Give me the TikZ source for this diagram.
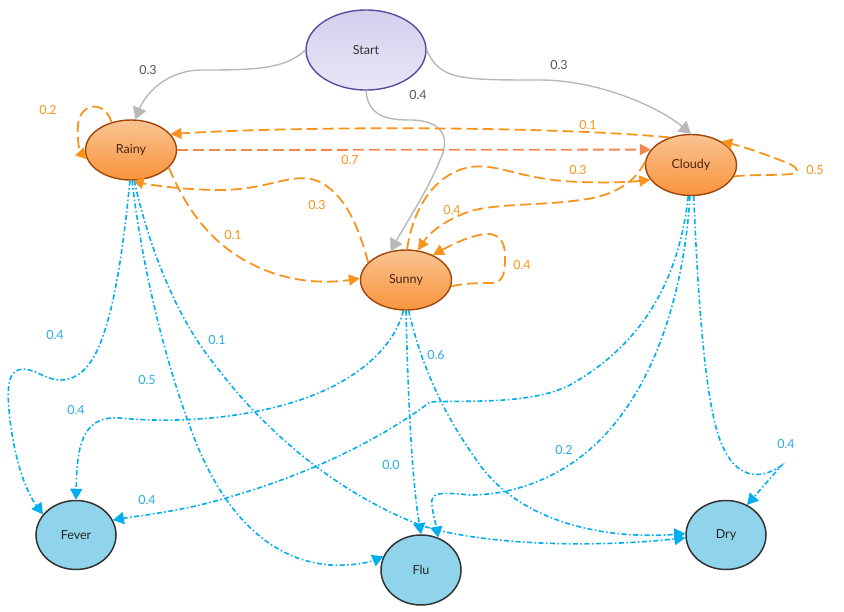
\documentclass[tikz,border=0pt]{standalone}
\usepackage{fontspec}
\setmainfont{Lato}
\usetikzlibrary{shapes.geometric,arrows.meta}
\definecolor{orln}{HTML}{F7941D}
\definecolor{salm}{HTML}{F2874F}
\definecolor{blln}{HTML}{00AEEF}
\definecolor{bltx}{HTML}{29ABE2}
\definecolor{grln}{HTML}{B8B8B8}
\definecolor{grtx}{HTML}{555555}
\definecolor{ortop}{HTML}{F9C391}
\definecolor{orbot}{HTML}{F9943C}
\definecolor{orbrd}{HTML}{A0460A}
\definecolor{ortxt}{HTML}{4A2410}
\definecolor{sttop}{HTML}{D3CFEE}
\definecolor{stbot}{HTML}{E8E6F6}
\definecolor{stbrd}{HTML}{574BA0}
\definecolor{blfill}{HTML}{8FD4EA}
\tikzset{
  hidden/.style={ellipse, inner sep=0pt, line width=1.4pt, font=\fontsize{12.5}{14}\selectfont,
    minimum width=91pt, minimum height=60pt, draw=orbrd, top color=ortop, bottom color=orbot, text=ortxt},
  startnode/.style={ellipse, inner sep=0pt, line width=1.4pt, font=\fontsize{12.5}{14}\selectfont,
    minimum width=120pt, minimum height=80pt, draw=stbrd, top color=sttop, bottom color=stbot, text=black!80},
  obsnode/.style={ellipse, inner sep=0pt, line width=1.5pt, font=\fontsize{12.5}{14}\selectfont,
    minimum width=80pt, minimum height=69pt, draw=black!80, fill=blfill, text=black!85},
  grayedge/.style={draw=grln, line width=1.4pt, -{Triangle[length=12pt,width=14pt]}, fill=none},
  oredge/.style={draw=orln, line width=1.8pt, dash pattern=on 11pt off 5pt, -{Triangle[length=11pt,width=11pt]}},
  saledge/.style={draw=salm, line width=1.8pt, dash pattern=on 11pt off 5pt, -{Triangle[length=11pt,width=11pt]}},
  bledge/.style={draw=blln, line width=1.6pt, dash pattern=on 5pt off 2.5pt on 1.5pt off 2.5pt, -{Triangle[length=11pt,width=12pt]}},
  glbl/.style={font=\fontsize{12.5}{14}\selectfont, text=grtx, inner sep=0pt},
  olbl/.style={font=\fontsize{12.5}{14}\selectfont, text=orln, inner sep=0pt},
  blbl/.style={font=\fontsize{12.5}{14}\selectfont, text=bltx, inner sep=0pt},
}
\begin{document}
\begin{tikzpicture}[x=1pt,y=-1pt]
\useasboundingbox (0,0) rectangle (844,611);
% nodes
\node[startnode] (Start) at (366,50) {Start};
\node[hidden] (Rainy) at (131,150) {Rainy};
\node[hidden] (Sunny) at (406,280) {Sunny};
\node[hidden, minimum height=61pt] (Cloudy) at (691,165) {Cloudy};
\node[obsnode] (Fever) at (76,535) {Fever};
\node[obsnode, minimum height=70pt] (Flu) at (421,570) {Flu};
\node[obsnode] (Dry) at (726,535) {Dry};
\coordinate (drybend) at (781,466);

% gray edges from Start
\draw[grayedge] (Start.west) .. controls (285,70) and (250,70) .. (200,70) .. controls (165,71) and (145,95) .. (Rainy.82);
\draw[grayedge] (Start.east) .. controls (440,80) and (460,80) .. (540,80) .. controls (600,80) and (660,108) .. (Cloudy.north);
\draw[grayedge] (Start.south) .. controls (368,115) and (385,120) .. (410,120) .. controls (445,120) and (450,140) .. (440,160) .. controls (428,190) and (405,225) .. (Sunny.118);

% orange edges
\draw[oredge] (Rainy.125) .. controls (105,100) and (80,102) .. (78,125) .. controls (77,142) and (80,152) .. (Rainy.192);
\draw[saledge] (Rainy.east) -- (Cloudy.159);
\draw[oredge] (Cloudy.128) .. controls (550,126) and (300,126) .. (Rainy.22);
\draw[oredge] (Cloudy.-15) .. controls (750,174) and (790,176) .. (795,173) .. controls (800,170) and (795,166) .. (785,162) .. controls (770,156) and (745,147) .. (Cloudy.38);
\draw[oredge] (Sunny.155) .. controls (358,225) and (345,195) .. (320,182) .. controls (295,170) and (270,190) .. (220,190) .. controls (185,190) and (150,185) .. (Rainy.-87);
\draw[oredge] (Rainy.-25) .. controls (185,205) and (210,250) .. (270,272) .. controls (300,283) and (330,283) .. (Sunny.178);
\draw[oredge] (Sunny.88) .. controls (412,215) and (430,175) .. (470,167) .. controls (500,163) and (520,180) .. (580,182) .. controls (610,183) and (630,182) .. (Cloudy.200);
\draw[oredge] (Cloudy.176) .. controls (635,182) and (615,196) .. (580,200) .. controls (540,206) and (490,203) .. (465,213) .. controls (440,223) and (428,235) .. (Sunny.68);
\draw[oredge] (Sunny.-8) .. controls (465,283) and (480,283) .. (492,283) .. controls (505,282) and (505,270) .. (505,255) .. controls (505,238) and (495,233) .. (485,234) .. controls (470,236) and (455,243) .. (Sunny.43);

% blue edges
\draw[bledge] (Rainy.-92) .. controls (125,230) and (118,290) .. (105,330) .. controls (97,355) and (85,380) .. (60,380) .. controls (45,380) and (30,365) .. (18,370) .. controls (5,375) and (8,400) .. (10,420) .. controls (15,460) and (25,490) .. (Fever.148);
\draw[bledge] (Rainy.-88) .. controls (140,250) and (160,350) .. (195,440) .. controls (225,515) and (270,560) .. (330,565) .. controls (355,566) and (370,562) .. (Flu.160);
\draw[bledge] (Rainy.-84) .. controls (145,230) and (170,310) .. (215,365) .. controls (260,425) and (330,490) .. (420,525) .. controls (480,545) and (590,548) .. (Dry.184);
\draw[bledge] (Sunny.-95) .. controls (395,345) and (360,380) .. (300,400) .. controls (240,420) and (170,423) .. (120,418) .. controls (80,415) and (77,450) .. (Fever.north);
\draw[bledge] (Sunny.-90) .. controls (408,400) and (412,480) .. (Flu.north);
\draw[bledge] (Sunny.-85) .. controls (420,360) and (440,410) .. (480,465) .. controls (520,520) and (600,540) .. (Dry.178);
\draw[bledge] (Cloudy.-95) .. controls (680,270) and (650,340) .. (570,385) .. controls (530,405) and (470,400) .. (430,402) .. controls (380,440) and (300,480) .. (200,505) .. controls (160,514) and (130,517) .. (Fever.22);
\draw[bledge] (Cloudy.-92) .. controls (685,280) and (660,380) .. (600,440) .. controls (560,480) and (510,495) .. (470,495) .. controls (440,492) and (430,492) .. (432,505) .. controls (433,515) and (436,525) .. (Flu.62);
\draw[bledge] (Cloudy.-85) .. controls (698,300) and (705,400) .. (720,440) .. controls (735,480) and (760,480) .. (drybend) -- (Dry.55);

% labels
\node[glbl] (g1) at (148,70) {0.3};
\node[glbl] (g2) at (418,95) {0.4};
\node[glbl] (g3) at (559,65) {0.3};
\node[olbl] (o1) at (48,110) {0.2};
\node[olbl] (o2) at (588,125) {0.1};
\node[olbl] (o3) at (350,160) {0.7};
\node[olbl] (o4) at (578,170) {0.3};
\node[olbl] (o5) at (815,170) {0.5};
\node[olbl] (o6) at (317,205) {0.3};
\node[olbl] (o7) at (452,210) {0.4};
\node[olbl] (o8) at (233,235) {0.1};
\node[olbl] (o9) at (522,265) {0.4};
\node[blbl] (b1) at (55,335) {0.4};
\node[blbl] (b2) at (217,340) {0.1};
\node[blbl] (b3) at (147,380) {0.5};
\node[blbl] (b4) at (76,410) {0.4};
\node[blbl] (b5) at (436,355) {0.6};
\node[blbl] (b6) at (391,465) {0.0};
\node[blbl] (b7) at (564,450) {0.2};
\node[blbl] (b8) at (786,444) {0.4};
\node[blbl] (b9) at (147,500) {0.4};
\end{tikzpicture}
\end{document}
